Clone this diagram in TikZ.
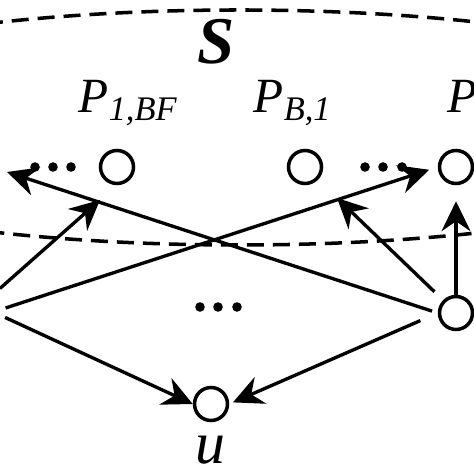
\documentclass[tikz,border=0pt]{standalone}
\usepackage{fontspec}
\setmainfont{Liberation Serif}
\usetikzlibrary{arrows.meta}
\tikzset{
  vtx/.style={circle,draw,line width=1pt,minimum size=3.3mm,inner sep=0pt},
  arr/.style={line width=0.95pt,-{Stealth[length=3mm,width=2.9mm,inset=1mm]}},
  lbl/.style={font=\fontsize{14}{16}\selectfont\itshape,inner sep=0pt},
}
\begin{document}
\begin{tikzpicture}[x=0.1mm,y=-0.1mm]
\useasboundingbox (0,0) rectangle (474,474);
% the set S
\draw[dash pattern=on 1.7mm off 0.9mm,line width=1pt] (239,127.5) ellipse [x radius=53.8mm,y radius=11.75mm];
\node[font=\fontsize{19}{21}\selectfont\bfseries\itshape,inner sep=0pt] (slab) at (216,42) {S};
% vertices
\node[vtx] (p1) at (117,167) {};
\node[vtx] (pb) at (305,167) {};
\node[vtx] (pr) at (456,167) {};
\node[vtx] (l) at (-25,312) {};
\node[vtx] (r) at (456,313) {};
\node[vtx] (u) at (211,404) {};
\node[lbl,anchor=base west] (p1lab) at (78,113) {P\textsubscript{1,BF}};
\node[lbl,anchor=base west] (pblab) at (253,113) {P\textsubscript{B,1}};
\node[lbl,anchor=base west] (prlab) at (447,113) {P};
\node[lbl,font=\fontsize{17}{19}\selectfont\itshape,anchor=base] (ulab) at (210,463) {u};
\coordinate (farl) at (7,172);
\coordinate (lhit) at (100,200);
\coordinate (rhit) at (337,198);
% dots
\foreach \x in {35,53,71,365,383,402} \fill (\x,167) circle (0.48mm);
\foreach \x in {200,218,237} \fill (\x,307) circle (0.48mm);
% edges
\draw[arr,shorten <=1.3mm] (l.east) -- (u.west);
\draw[arr,shorten <=1.9mm,shorten >=0.4mm] (r.west) -- (u.east);
\draw[arr,shorten <=1.3mm,shorten >=0.9mm] (l.east) -- (pr.west);
\draw[arr,shorten <=0.6mm] (r.west) -- (farl);
\draw[arr,shorten <=1.6mm] (l.45) -- (lhit);
\draw[arr,shorten <=1.2mm] (r.north west) -- (rhit);
\draw[arr,shorten >=1.6mm] (r.north) -- (pr.south);
\end{tikzpicture}
\end{document}
